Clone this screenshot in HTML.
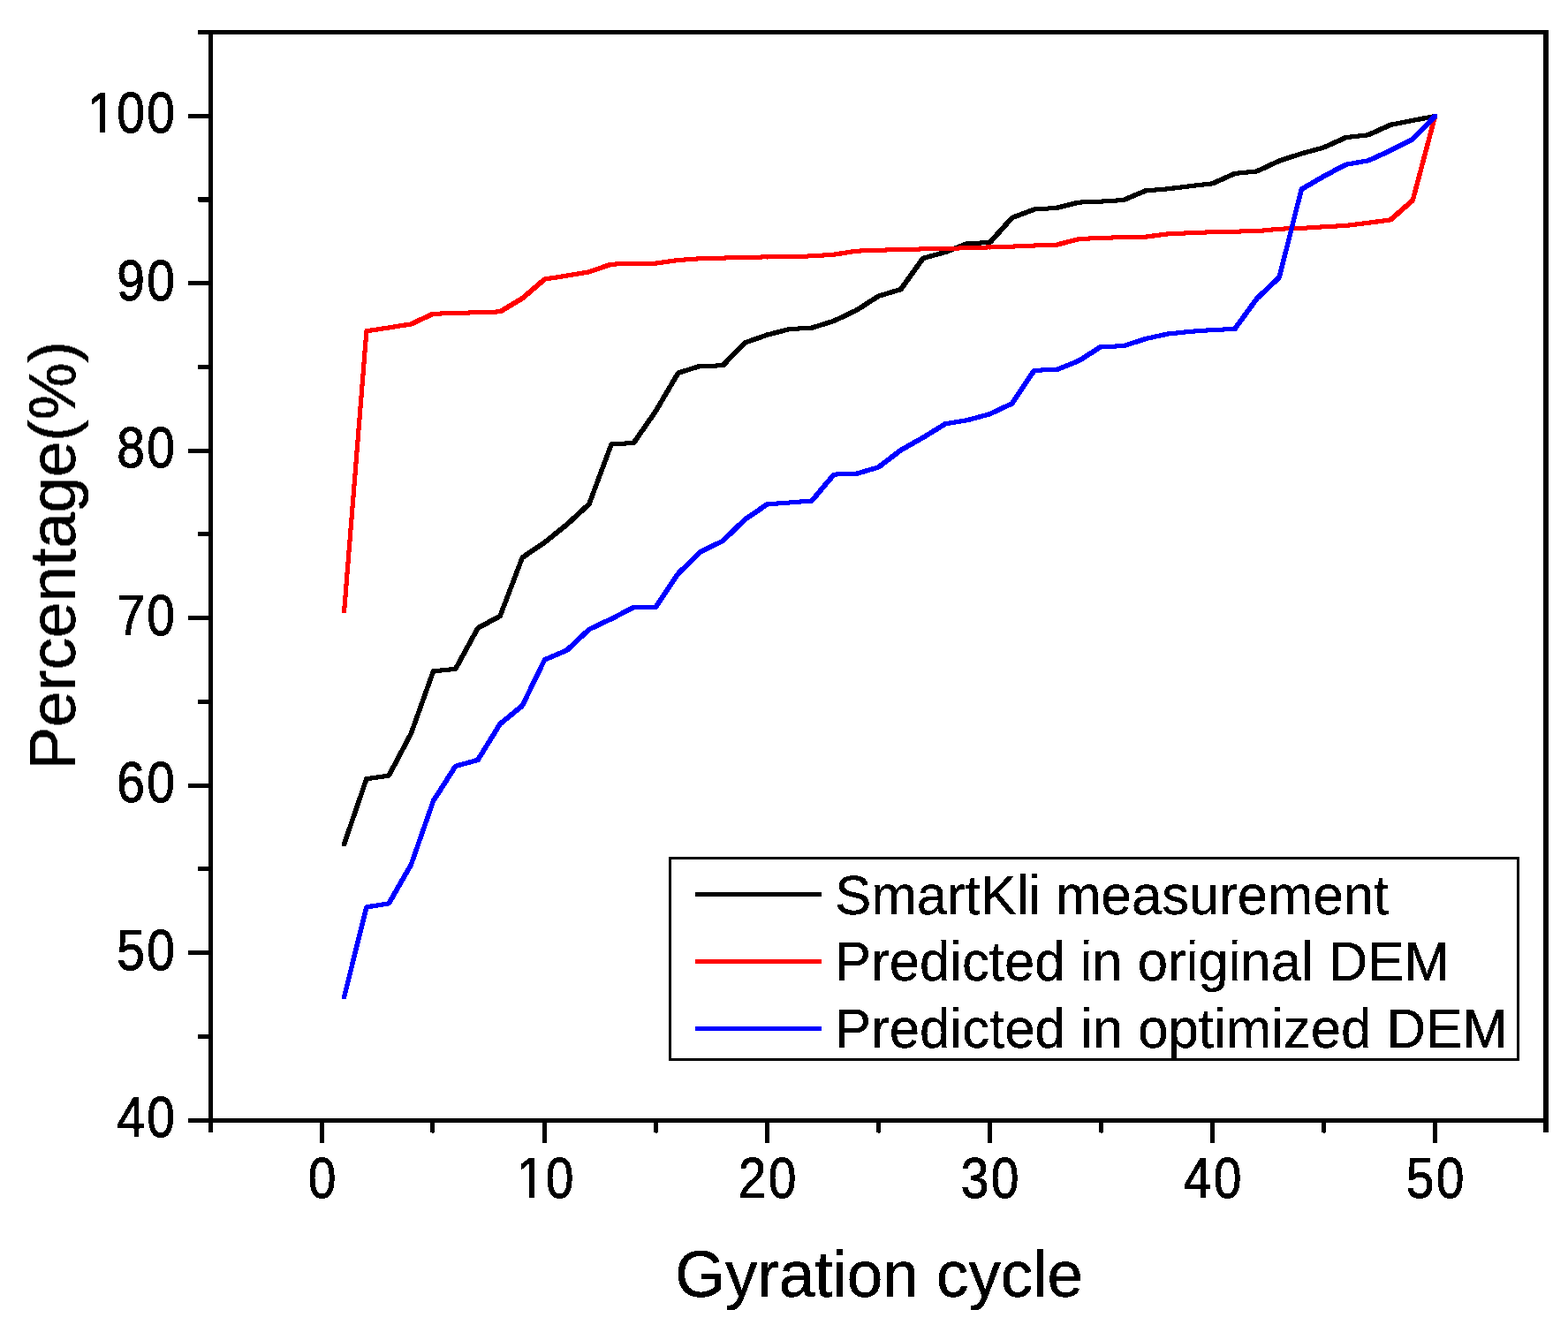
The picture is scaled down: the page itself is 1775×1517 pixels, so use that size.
<!DOCTYPE html>
<html lang="en"><head><meta charset="utf-8"><title>Gyration cycle vs Percentage</title>
<style>html,body{margin:0;padding:0;background:#fff;}body{width:1775px;height:1517px;overflow:hidden;}svg{display:block;}text{font-family:"Liberation Sans",sans-serif;fill:#000;}</style>
</head><body>
<svg width="1775" height="1517" viewBox="0 0 1775 1517">
<defs><filter id="bin" x="-5%" y="-20%" width="110%" height="140%" color-interpolation-filters="sRGB"><feComponentTransfer><feFuncA type="discrete" tableValues="0 1"/></feComponentTransfer></filter><clipPath id="c100"><path clip-rule="evenodd" d="M0 0H1775V1517H0Z M99 143H113V153H99Z M119 143H132V153H119Z"/></clipPath><clipPath id="c10"><path clip-rule="evenodd" d="M0 0H1775V1517H0Z M585 1349H599V1360H585Z M605 1349H617V1360H605Z"/></clipPath></defs>
<rect x="0" y="0" width="1775" height="1517" fill="#fff"/>
<g shape-rendering="crispEdges">
<g stroke="#000" fill="#000" stroke-linecap="butt">
<line x1="389.7" y1="955.3" x2="414.9" y2="881.7" stroke-width="5.55"/>
<line x1="414.9" y1="881.7" x2="440.1" y2="878.2" stroke-width="5.25"/>
<line x1="440.1" y1="878.2" x2="465.3" y2="830.5" stroke-width="5.74"/>
<line x1="465.3" y1="830.5" x2="490.5" y2="759.9" stroke-width="5.57"/>
<line x1="490.5" y1="759.9" x2="515.7" y2="757.3" stroke-width="5.18"/>
<line x1="515.7" y1="757.3" x2="540.9" y2="711.1" stroke-width="5.76"/>
<line x1="540.9" y1="711.1" x2="566.1" y2="697.4" stroke-width="5.76"/>
<line x1="566.1" y1="697.4" x2="591.3" y2="631.2" stroke-width="5.60"/>
<line x1="591.3" y1="631.2" x2="616.5" y2="614.1" stroke-width="5.84"/>
<line x1="616.5" y1="614.1" x2="641.7" y2="593.9" stroke-width="5.88"/>
<line x1="641.7" y1="593.9" x2="666.9" y2="570.6" stroke-width="5.90"/>
<line x1="666.9" y1="570.6" x2="692.1" y2="502.9" stroke-width="5.59"/>
<line x1="692.1" y1="502.9" x2="717.3" y2="501.5" stroke-width="5.10"/>
<line x1="717.3" y1="501.5" x2="742.5" y2="465.1" stroke-width="5.84"/>
<line x1="742.5" y1="465.1" x2="767.7" y2="422.2" stroke-width="5.79"/>
<line x1="767.7" y1="422.2" x2="792.9" y2="414.3" stroke-width="5.51"/>
<line x1="792.9" y1="414.3" x2="818.1" y2="413.9" stroke-width="5.03"/>
<line x1="818.1" y1="413.9" x2="843.3" y2="388.0" stroke-width="5.90"/>
<line x1="843.3" y1="388.0" x2="868.5" y2="379.1" stroke-width="5.57"/>
<line x1="868.5" y1="379.1" x2="893.7" y2="372.6" stroke-width="5.44"/>
<line x1="893.7" y1="372.6" x2="918.9" y2="371.2" stroke-width="5.10"/>
<line x1="918.9" y1="371.2" x2="944.1" y2="363.3" stroke-width="5.51"/>
<line x1="944.1" y1="363.3" x2="969.3" y2="351.4" stroke-width="5.70"/>
<line x1="969.3" y1="351.4" x2="994.5" y2="335.2" stroke-width="5.82"/>
<line x1="994.5" y1="335.2" x2="1019.7" y2="327.6" stroke-width="5.50"/>
<line x1="1019.7" y1="327.6" x2="1044.9" y2="292.4" stroke-width="5.85"/>
<line x1="1044.9" y1="292.4" x2="1070.1" y2="285.5" stroke-width="5.46"/>
<line x1="1070.1" y1="285.5" x2="1095.3" y2="275.6" stroke-width="5.61"/>
<line x1="1095.3" y1="275.6" x2="1120.5" y2="274.6" stroke-width="5.07"/>
<line x1="1120.5" y1="274.6" x2="1145.7" y2="246.5" stroke-width="5.89"/>
<line x1="1145.7" y1="246.5" x2="1170.9" y2="237.0" stroke-width="5.59"/>
<line x1="1170.9" y1="237.0" x2="1196.1" y2="235.4" stroke-width="5.11"/>
<line x1="1196.1" y1="235.4" x2="1221.3" y2="229.1" stroke-width="5.42"/>
<line x1="1221.3" y1="229.1" x2="1246.5" y2="228.1" stroke-width="5.07"/>
<line x1="1246.5" y1="228.1" x2="1271.7" y2="226.5" stroke-width="5.11"/>
<line x1="1271.7" y1="226.5" x2="1296.9" y2="215.9" stroke-width="5.64"/>
<line x1="1296.9" y1="215.9" x2="1322.1" y2="213.8" stroke-width="5.15"/>
<line x1="1322.1" y1="213.8" x2="1347.3" y2="210.7" stroke-width="5.22"/>
<line x1="1347.3" y1="210.7" x2="1372.5" y2="207.8" stroke-width="5.20"/>
<line x1="1372.5" y1="207.8" x2="1397.7" y2="196.5" stroke-width="5.67"/>
<line x1="1397.7" y1="196.5" x2="1422.9" y2="193.9" stroke-width="5.18"/>
<line x1="1422.9" y1="193.9" x2="1448.1" y2="182.1" stroke-width="5.69"/>
<line x1="1448.1" y1="182.1" x2="1473.3" y2="173.9" stroke-width="5.53"/>
<line x1="1473.3" y1="173.9" x2="1498.5" y2="167.0" stroke-width="5.46"/>
<line x1="1498.5" y1="167.0" x2="1523.7" y2="155.6" stroke-width="5.68"/>
<line x1="1523.7" y1="155.6" x2="1548.9" y2="152.8" stroke-width="5.20"/>
<line x1="1548.9" y1="152.8" x2="1574.1" y2="141.3" stroke-width="5.68"/>
<line x1="1574.1" y1="141.3" x2="1599.3" y2="136.4" stroke-width="5.34"/>
<line x1="1599.3" y1="136.4" x2="1624.5" y2="131.5" stroke-width="5.34"/>
<circle cx="414.9" cy="881.7" r="2.6" stroke="none"/>
<circle cx="440.1" cy="878.2" r="2.6" stroke="none"/>
<circle cx="465.3" cy="830.5" r="2.6" stroke="none"/>
<circle cx="490.5" cy="759.9" r="2.6" stroke="none"/>
<circle cx="515.7" cy="757.3" r="2.6" stroke="none"/>
<circle cx="540.9" cy="711.1" r="2.6" stroke="none"/>
<circle cx="566.1" cy="697.4" r="2.6" stroke="none"/>
<circle cx="591.3" cy="631.2" r="2.6" stroke="none"/>
<circle cx="616.5" cy="614.1" r="2.6" stroke="none"/>
<circle cx="641.7" cy="593.9" r="2.6" stroke="none"/>
<circle cx="666.9" cy="570.6" r="2.6" stroke="none"/>
<circle cx="692.1" cy="502.9" r="2.6" stroke="none"/>
<circle cx="717.3" cy="501.5" r="2.6" stroke="none"/>
<circle cx="742.5" cy="465.1" r="2.6" stroke="none"/>
<circle cx="767.7" cy="422.2" r="2.6" stroke="none"/>
<circle cx="792.9" cy="414.3" r="2.6" stroke="none"/>
<circle cx="818.1" cy="413.9" r="2.6" stroke="none"/>
<circle cx="843.3" cy="388.0" r="2.6" stroke="none"/>
<circle cx="868.5" cy="379.1" r="2.6" stroke="none"/>
<circle cx="893.7" cy="372.6" r="2.6" stroke="none"/>
<circle cx="918.9" cy="371.2" r="2.6" stroke="none"/>
<circle cx="944.1" cy="363.3" r="2.6" stroke="none"/>
<circle cx="969.3" cy="351.4" r="2.6" stroke="none"/>
<circle cx="994.5" cy="335.2" r="2.6" stroke="none"/>
<circle cx="1019.7" cy="327.6" r="2.6" stroke="none"/>
<circle cx="1044.9" cy="292.4" r="2.6" stroke="none"/>
<circle cx="1070.1" cy="285.5" r="2.6" stroke="none"/>
<circle cx="1095.3" cy="275.6" r="2.6" stroke="none"/>
<circle cx="1120.5" cy="274.6" r="2.6" stroke="none"/>
<circle cx="1145.7" cy="246.5" r="2.6" stroke="none"/>
<circle cx="1170.9" cy="237.0" r="2.6" stroke="none"/>
<circle cx="1196.1" cy="235.4" r="2.6" stroke="none"/>
<circle cx="1221.3" cy="229.1" r="2.6" stroke="none"/>
<circle cx="1246.5" cy="228.1" r="2.6" stroke="none"/>
<circle cx="1271.7" cy="226.5" r="2.6" stroke="none"/>
<circle cx="1296.9" cy="215.9" r="2.6" stroke="none"/>
<circle cx="1322.1" cy="213.8" r="2.6" stroke="none"/>
<circle cx="1347.3" cy="210.7" r="2.6" stroke="none"/>
<circle cx="1372.5" cy="207.8" r="2.6" stroke="none"/>
<circle cx="1397.7" cy="196.5" r="2.6" stroke="none"/>
<circle cx="1422.9" cy="193.9" r="2.6" stroke="none"/>
<circle cx="1448.1" cy="182.1" r="2.6" stroke="none"/>
<circle cx="1473.3" cy="173.9" r="2.6" stroke="none"/>
<circle cx="1498.5" cy="167.0" r="2.6" stroke="none"/>
<circle cx="1523.7" cy="155.6" r="2.6" stroke="none"/>
<circle cx="1548.9" cy="152.8" r="2.6" stroke="none"/>
<circle cx="1574.1" cy="141.3" r="2.6" stroke="none"/>
<circle cx="1599.3" cy="136.4" r="2.6" stroke="none"/>
<rect x="387.2" y="952.8" width="5" height="5" stroke="none"/>
<rect x="1622.0" y="129.0" width="5" height="5" stroke="none"/>
</g>
<g stroke="#f00" fill="#f00" stroke-linecap="butt">
<line x1="389.7" y1="691.1" x2="414.9" y2="374.8" stroke-width="5.14"/>
<line x1="414.9" y1="374.8" x2="440.1" y2="371.0" stroke-width="5.27"/>
<line x1="440.1" y1="371.0" x2="465.3" y2="366.9" stroke-width="5.29"/>
<line x1="465.3" y1="366.9" x2="490.5" y2="355.2" stroke-width="5.69"/>
<line x1="490.5" y1="355.2" x2="515.7" y2="354.6" stroke-width="5.04"/>
<line x1="515.7" y1="354.6" x2="540.9" y2="353.6" stroke-width="5.07"/>
<line x1="540.9" y1="353.6" x2="566.1" y2="352.9" stroke-width="5.05"/>
<line x1="566.1" y1="352.9" x2="591.3" y2="337.8" stroke-width="5.79"/>
<line x1="591.3" y1="337.8" x2="616.5" y2="316.1" stroke-width="5.89"/>
<line x1="616.5" y1="316.1" x2="641.7" y2="312.1" stroke-width="5.28"/>
<line x1="641.7" y1="312.1" x2="666.9" y2="307.8" stroke-width="5.30"/>
<line x1="666.9" y1="307.8" x2="692.1" y2="299.1" stroke-width="5.56"/>
<line x1="692.1" y1="299.1" x2="717.3" y2="298.6" stroke-width="5.04"/>
<line x1="717.3" y1="298.6" x2="742.5" y2="298.1" stroke-width="5.04"/>
<line x1="742.5" y1="298.1" x2="767.7" y2="294.5" stroke-width="5.25"/>
<line x1="767.7" y1="294.5" x2="792.9" y2="292.7" stroke-width="5.13"/>
<line x1="792.9" y1="292.7" x2="818.1" y2="292.1" stroke-width="5.04"/>
<line x1="818.1" y1="292.1" x2="843.3" y2="291.3" stroke-width="5.06"/>
<line x1="843.3" y1="291.3" x2="868.5" y2="290.9" stroke-width="5.03"/>
<line x1="868.5" y1="290.9" x2="893.7" y2="290.5" stroke-width="5.03"/>
<line x1="893.7" y1="290.5" x2="918.9" y2="289.9" stroke-width="5.04"/>
<line x1="918.9" y1="289.9" x2="944.1" y2="288.2" stroke-width="5.12"/>
<line x1="944.1" y1="288.2" x2="969.3" y2="284.2" stroke-width="5.28"/>
<line x1="969.3" y1="284.2" x2="994.5" y2="283.2" stroke-width="5.07"/>
<line x1="994.5" y1="283.2" x2="1019.7" y2="282.6" stroke-width="5.04"/>
<line x1="1019.7" y1="282.6" x2="1044.9" y2="281.9" stroke-width="5.05"/>
<line x1="1044.9" y1="281.9" x2="1070.1" y2="281.5" stroke-width="5.03"/>
<line x1="1070.1" y1="281.5" x2="1095.3" y2="280.7" stroke-width="5.06"/>
<line x1="1095.3" y1="280.7" x2="1120.5" y2="279.9" stroke-width="5.06"/>
<line x1="1120.5" y1="279.9" x2="1145.7" y2="279.1" stroke-width="5.06"/>
<line x1="1145.7" y1="279.1" x2="1170.9" y2="278.0" stroke-width="5.08"/>
<line x1="1170.9" y1="278.0" x2="1196.1" y2="277.2" stroke-width="5.06"/>
<line x1="1196.1" y1="277.2" x2="1221.3" y2="270.6" stroke-width="5.44"/>
<line x1="1221.3" y1="270.6" x2="1246.5" y2="269.3" stroke-width="5.09"/>
<line x1="1246.5" y1="269.3" x2="1271.7" y2="268.7" stroke-width="5.04"/>
<line x1="1271.7" y1="268.7" x2="1296.9" y2="268.1" stroke-width="5.04"/>
<line x1="1296.9" y1="268.1" x2="1322.1" y2="264.9" stroke-width="5.22"/>
<line x1="1322.1" y1="264.9" x2="1347.3" y2="263.7" stroke-width="5.09"/>
<line x1="1347.3" y1="263.7" x2="1372.5" y2="262.7" stroke-width="5.07"/>
<line x1="1372.5" y1="262.7" x2="1397.7" y2="262.1" stroke-width="5.04"/>
<line x1="1397.7" y1="262.1" x2="1422.9" y2="261.7" stroke-width="5.03"/>
<line x1="1422.9" y1="261.7" x2="1448.1" y2="259.2" stroke-width="5.18"/>
<line x1="1448.1" y1="259.2" x2="1473.3" y2="258.4" stroke-width="5.06"/>
<line x1="1473.3" y1="258.4" x2="1498.5" y2="256.8" stroke-width="5.11"/>
<line x1="1498.5" y1="256.8" x2="1523.7" y2="255.4" stroke-width="5.10"/>
<line x1="1523.7" y1="255.4" x2="1548.9" y2="252.3" stroke-width="5.22"/>
<line x1="1548.9" y1="252.3" x2="1574.1" y2="248.9" stroke-width="5.24"/>
<line x1="1574.1" y1="248.9" x2="1599.3" y2="226.7" stroke-width="5.89"/>
<line x1="1599.3" y1="226.7" x2="1624.5" y2="131.5" stroke-width="5.45"/>
<circle cx="414.9" cy="374.8" r="2.6" stroke="none"/>
<circle cx="440.1" cy="371.0" r="2.6" stroke="none"/>
<circle cx="465.3" cy="366.9" r="2.6" stroke="none"/>
<circle cx="490.5" cy="355.2" r="2.6" stroke="none"/>
<circle cx="515.7" cy="354.6" r="2.6" stroke="none"/>
<circle cx="540.9" cy="353.6" r="2.6" stroke="none"/>
<circle cx="566.1" cy="352.9" r="2.6" stroke="none"/>
<circle cx="591.3" cy="337.8" r="2.6" stroke="none"/>
<circle cx="616.5" cy="316.1" r="2.6" stroke="none"/>
<circle cx="641.7" cy="312.1" r="2.6" stroke="none"/>
<circle cx="666.9" cy="307.8" r="2.6" stroke="none"/>
<circle cx="692.1" cy="299.1" r="2.6" stroke="none"/>
<circle cx="717.3" cy="298.6" r="2.6" stroke="none"/>
<circle cx="742.5" cy="298.1" r="2.6" stroke="none"/>
<circle cx="767.7" cy="294.5" r="2.6" stroke="none"/>
<circle cx="792.9" cy="292.7" r="2.6" stroke="none"/>
<circle cx="818.1" cy="292.1" r="2.6" stroke="none"/>
<circle cx="843.3" cy="291.3" r="2.6" stroke="none"/>
<circle cx="868.5" cy="290.9" r="2.6" stroke="none"/>
<circle cx="893.7" cy="290.5" r="2.6" stroke="none"/>
<circle cx="918.9" cy="289.9" r="2.6" stroke="none"/>
<circle cx="944.1" cy="288.2" r="2.6" stroke="none"/>
<circle cx="969.3" cy="284.2" r="2.6" stroke="none"/>
<circle cx="994.5" cy="283.2" r="2.6" stroke="none"/>
<circle cx="1019.7" cy="282.6" r="2.6" stroke="none"/>
<circle cx="1044.9" cy="281.9" r="2.6" stroke="none"/>
<circle cx="1070.1" cy="281.5" r="2.6" stroke="none"/>
<circle cx="1095.3" cy="280.7" r="2.6" stroke="none"/>
<circle cx="1120.5" cy="279.9" r="2.6" stroke="none"/>
<circle cx="1145.7" cy="279.1" r="2.6" stroke="none"/>
<circle cx="1170.9" cy="278.0" r="2.6" stroke="none"/>
<circle cx="1196.1" cy="277.2" r="2.6" stroke="none"/>
<circle cx="1221.3" cy="270.6" r="2.6" stroke="none"/>
<circle cx="1246.5" cy="269.3" r="2.6" stroke="none"/>
<circle cx="1271.7" cy="268.7" r="2.6" stroke="none"/>
<circle cx="1296.9" cy="268.1" r="2.6" stroke="none"/>
<circle cx="1322.1" cy="264.9" r="2.6" stroke="none"/>
<circle cx="1347.3" cy="263.7" r="2.6" stroke="none"/>
<circle cx="1372.5" cy="262.7" r="2.6" stroke="none"/>
<circle cx="1397.7" cy="262.1" r="2.6" stroke="none"/>
<circle cx="1422.9" cy="261.7" r="2.6" stroke="none"/>
<circle cx="1448.1" cy="259.2" r="2.6" stroke="none"/>
<circle cx="1473.3" cy="258.4" r="2.6" stroke="none"/>
<circle cx="1498.5" cy="256.8" r="2.6" stroke="none"/>
<circle cx="1523.7" cy="255.4" r="2.6" stroke="none"/>
<circle cx="1548.9" cy="252.3" r="2.6" stroke="none"/>
<circle cx="1574.1" cy="248.9" r="2.6" stroke="none"/>
<circle cx="1599.3" cy="226.7" r="2.6" stroke="none"/>
<rect x="387.2" y="688.6" width="5" height="5" stroke="none"/>
<rect x="1622.0" y="129.0" width="5" height="5" stroke="none"/>
</g>
<g stroke="#00f" fill="#00f" stroke-linecap="butt">
<line x1="389.7" y1="1128.1" x2="414.9" y2="1026.9" stroke-width="5.42"/>
<line x1="414.9" y1="1026.9" x2="440.1" y2="1022.9" stroke-width="5.28"/>
<line x1="440.1" y1="1022.9" x2="465.3" y2="979.0" stroke-width="5.78"/>
<line x1="465.3" y1="979.0" x2="490.5" y2="906.8" stroke-width="5.56"/>
<line x1="490.5" y1="906.8" x2="515.7" y2="867.3" stroke-width="5.82"/>
<line x1="515.7" y1="867.3" x2="540.9" y2="860.4" stroke-width="5.46"/>
<line x1="540.9" y1="860.4" x2="566.1" y2="819.6" stroke-width="5.80"/>
<line x1="566.1" y1="819.6" x2="591.3" y2="798.9" stroke-width="5.88"/>
<line x1="591.3" y1="798.9" x2="616.5" y2="746.9" stroke-width="5.71"/>
<line x1="616.5" y1="746.9" x2="641.7" y2="736.2" stroke-width="5.65"/>
<line x1="641.7" y1="736.2" x2="666.9" y2="712.5" stroke-width="5.90"/>
<line x1="666.9" y1="712.5" x2="692.1" y2="700.6" stroke-width="5.70"/>
<line x1="692.1" y1="700.6" x2="717.3" y2="687.6" stroke-width="5.73"/>
<line x1="717.3" y1="687.6" x2="742.5" y2="687.2" stroke-width="5.03"/>
<line x1="742.5" y1="687.2" x2="767.7" y2="649.4" stroke-width="5.83"/>
<line x1="767.7" y1="649.4" x2="792.9" y2="624.7" stroke-width="5.90"/>
<line x1="792.9" y1="624.7" x2="818.1" y2="612.5" stroke-width="5.71"/>
<line x1="818.1" y1="612.5" x2="843.3" y2="588.1" stroke-width="5.90"/>
<line x1="843.3" y1="588.1" x2="868.5" y2="570.9" stroke-width="5.84"/>
<line x1="868.5" y1="570.9" x2="893.7" y2="569.0" stroke-width="5.13"/>
<line x1="893.7" y1="569.0" x2="918.9" y2="567.0" stroke-width="5.14"/>
<line x1="918.9" y1="567.0" x2="944.1" y2="537.1" stroke-width="5.89"/>
<line x1="944.1" y1="537.1" x2="969.3" y2="536.4" stroke-width="5.05"/>
<line x1="969.3" y1="536.4" x2="994.5" y2="528.9" stroke-width="5.49"/>
<line x1="994.5" y1="528.9" x2="1019.7" y2="509.6" stroke-width="5.87"/>
<line x1="1019.7" y1="509.6" x2="1044.9" y2="495.4" stroke-width="5.77"/>
<line x1="1044.9" y1="495.4" x2="1070.1" y2="479.9" stroke-width="5.80"/>
<line x1="1070.1" y1="479.9" x2="1095.3" y2="475.6" stroke-width="5.30"/>
<line x1="1095.3" y1="475.6" x2="1120.5" y2="468.7" stroke-width="5.46"/>
<line x1="1120.5" y1="468.7" x2="1145.7" y2="456.8" stroke-width="5.70"/>
<line x1="1145.7" y1="456.8" x2="1170.9" y2="419.2" stroke-width="5.83"/>
<line x1="1170.9" y1="419.2" x2="1196.1" y2="418.6" stroke-width="5.04"/>
<line x1="1196.1" y1="418.6" x2="1221.3" y2="408.4" stroke-width="5.63"/>
<line x1="1221.3" y1="408.4" x2="1246.5" y2="392.4" stroke-width="5.81"/>
<line x1="1246.5" y1="392.4" x2="1271.7" y2="391.8" stroke-width="5.04"/>
<line x1="1271.7" y1="391.8" x2="1296.9" y2="383.5" stroke-width="5.53"/>
<line x1="1296.9" y1="383.5" x2="1322.1" y2="378.0" stroke-width="5.37"/>
<line x1="1322.1" y1="378.0" x2="1347.3" y2="375.4" stroke-width="5.18"/>
<line x1="1347.3" y1="375.4" x2="1372.5" y2="373.5" stroke-width="5.13"/>
<line x1="1372.5" y1="373.5" x2="1397.7" y2="372.5" stroke-width="5.07"/>
<line x1="1397.7" y1="372.5" x2="1422.9" y2="337.9" stroke-width="5.86"/>
<line x1="1422.9" y1="337.9" x2="1448.1" y2="314.1" stroke-width="5.90"/>
<line x1="1448.1" y1="314.1" x2="1473.3" y2="214.3" stroke-width="5.43"/>
<line x1="1473.3" y1="214.3" x2="1498.5" y2="199.6" stroke-width="5.78"/>
<line x1="1498.5" y1="199.6" x2="1523.7" y2="186.2" stroke-width="5.75"/>
<line x1="1523.7" y1="186.2" x2="1548.9" y2="181.9" stroke-width="5.30"/>
<line x1="1548.9" y1="181.9" x2="1574.1" y2="170.4" stroke-width="5.68"/>
<line x1="1574.1" y1="170.4" x2="1599.3" y2="157.5" stroke-width="5.73"/>
<line x1="1599.3" y1="157.5" x2="1624.5" y2="131.5" stroke-width="5.90"/>
<circle cx="414.9" cy="1026.9" r="2.6" stroke="none"/>
<circle cx="440.1" cy="1022.9" r="2.6" stroke="none"/>
<circle cx="465.3" cy="979.0" r="2.6" stroke="none"/>
<circle cx="490.5" cy="906.8" r="2.6" stroke="none"/>
<circle cx="515.7" cy="867.3" r="2.6" stroke="none"/>
<circle cx="540.9" cy="860.4" r="2.6" stroke="none"/>
<circle cx="566.1" cy="819.6" r="2.6" stroke="none"/>
<circle cx="591.3" cy="798.9" r="2.6" stroke="none"/>
<circle cx="616.5" cy="746.9" r="2.6" stroke="none"/>
<circle cx="641.7" cy="736.2" r="2.6" stroke="none"/>
<circle cx="666.9" cy="712.5" r="2.6" stroke="none"/>
<circle cx="692.1" cy="700.6" r="2.6" stroke="none"/>
<circle cx="717.3" cy="687.6" r="2.6" stroke="none"/>
<circle cx="742.5" cy="687.2" r="2.6" stroke="none"/>
<circle cx="767.7" cy="649.4" r="2.6" stroke="none"/>
<circle cx="792.9" cy="624.7" r="2.6" stroke="none"/>
<circle cx="818.1" cy="612.5" r="2.6" stroke="none"/>
<circle cx="843.3" cy="588.1" r="2.6" stroke="none"/>
<circle cx="868.5" cy="570.9" r="2.6" stroke="none"/>
<circle cx="893.7" cy="569.0" r="2.6" stroke="none"/>
<circle cx="918.9" cy="567.0" r="2.6" stroke="none"/>
<circle cx="944.1" cy="537.1" r="2.6" stroke="none"/>
<circle cx="969.3" cy="536.4" r="2.6" stroke="none"/>
<circle cx="994.5" cy="528.9" r="2.6" stroke="none"/>
<circle cx="1019.7" cy="509.6" r="2.6" stroke="none"/>
<circle cx="1044.9" cy="495.4" r="2.6" stroke="none"/>
<circle cx="1070.1" cy="479.9" r="2.6" stroke="none"/>
<circle cx="1095.3" cy="475.6" r="2.6" stroke="none"/>
<circle cx="1120.5" cy="468.7" r="2.6" stroke="none"/>
<circle cx="1145.7" cy="456.8" r="2.6" stroke="none"/>
<circle cx="1170.9" cy="419.2" r="2.6" stroke="none"/>
<circle cx="1196.1" cy="418.6" r="2.6" stroke="none"/>
<circle cx="1221.3" cy="408.4" r="2.6" stroke="none"/>
<circle cx="1246.5" cy="392.4" r="2.6" stroke="none"/>
<circle cx="1271.7" cy="391.8" r="2.6" stroke="none"/>
<circle cx="1296.9" cy="383.5" r="2.6" stroke="none"/>
<circle cx="1322.1" cy="378.0" r="2.6" stroke="none"/>
<circle cx="1347.3" cy="375.4" r="2.6" stroke="none"/>
<circle cx="1372.5" cy="373.5" r="2.6" stroke="none"/>
<circle cx="1397.7" cy="372.5" r="2.6" stroke="none"/>
<circle cx="1422.9" cy="337.9" r="2.6" stroke="none"/>
<circle cx="1448.1" cy="314.1" r="2.6" stroke="none"/>
<circle cx="1473.3" cy="214.3" r="2.6" stroke="none"/>
<circle cx="1498.5" cy="199.6" r="2.6" stroke="none"/>
<circle cx="1523.7" cy="186.2" r="2.6" stroke="none"/>
<circle cx="1548.9" cy="181.9" r="2.6" stroke="none"/>
<circle cx="1574.1" cy="170.4" r="2.6" stroke="none"/>
<circle cx="1599.3" cy="157.5" r="2.6" stroke="none"/>
<rect x="387.2" y="1125.6" width="5" height="5" stroke="none"/>
<rect x="1622.0" y="129.0" width="5" height="5" stroke="none"/>
</g>
</g>
<g fill="#000" shape-rendering="crispEdges">
<rect x="236" y="34" width="5" height="1248"/>
<rect x="1747" y="34" width="6" height="1248"/>
<rect x="224" y="34" width="1529" height="5"/>
<rect x="213" y="1266" width="1540" height="5"/>
<rect x="362" y="1271" width="5" height="23"/>
<rect x="614" y="1271" width="5" height="23"/>
<rect x="866" y="1271" width="5" height="23"/>
<rect x="1118" y="1271" width="5" height="23"/>
<rect x="1370" y="1271" width="5" height="23"/>
<rect x="1622" y="1271" width="5" height="23"/>
<rect x="487" y="1271" width="5" height="11"/>
<rect x="489" y="1282" width="2" height="1"/>
<rect x="740" y="1271" width="5" height="11"/>
<rect x="742" y="1282" width="2" height="1"/>
<rect x="992" y="1271" width="5" height="11"/>
<rect x="994" y="1282" width="2" height="1"/>
<rect x="1244" y="1271" width="5" height="11"/>
<rect x="1246" y="1282" width="2" height="1"/>
<rect x="1496" y="1271" width="5" height="11"/>
<rect x="1498" y="1282" width="2" height="1"/>
<rect x="213" y="1076" width="23" height="5"/>
<rect x="213" y="887" width="23" height="5"/>
<rect x="213" y="697" width="23" height="5"/>
<rect x="213" y="508" width="23" height="5"/>
<rect x="213" y="318" width="23" height="5"/>
<rect x="213" y="129" width="23" height="5"/>
<rect x="224" y="1171" width="12" height="5"/>
<rect x="224" y="981" width="12" height="5"/>
<rect x="224" y="792" width="12" height="5"/>
<rect x="224" y="602" width="12" height="5"/>
<rect x="224" y="413" width="12" height="5"/>
<rect x="224" y="223" width="12" height="5"/>
<rect x="225" y="228" width="11" height="1"/>
</g>
<g font-size="64.0" stroke="#000" stroke-width="1" filter="url(#bin)">
<text transform="translate(0,1356.0) scale(0.890,1)" x="391.75" y="0">0</text>
<g clip-path="url(#c10)"><text transform="translate(0,1356.0) scale(0.890,1)" x="656.92 694.00" y="0">10</text></g>
<text transform="translate(0,1356.0) scale(0.890,1)" x="938.94 977.15" y="0">20</text>
<text transform="translate(0,1356.0) scale(0.890,1)" x="1222.09 1260.29" y="0">30</text>
<text transform="translate(0,1356.0) scale(0.890,1)" x="1505.24 1543.44" y="0">40</text>
<text transform="translate(0,1356.0) scale(0.890,1)" x="1788.38 1826.58" y="0">50</text>
<text transform="translate(0,1287.0) scale(0.890,1)" x="148.72 186.92" y="0">40</text>
<text transform="translate(0,1097.5) scale(0.890,1)" x="148.72 186.92" y="0">50</text>
<text transform="translate(0,908.0) scale(0.890,1)" x="148.72 186.92" y="0">60</text>
<text transform="translate(0,718.5) scale(0.890,1)" x="148.72 186.92" y="0">70</text>
<text transform="translate(0,529.0) scale(0.890,1)" x="148.72 186.92" y="0">80</text>
<text transform="translate(0,339.5) scale(0.890,1)" x="148.72 186.92" y="0">90</text>
<g clip-path="url(#c100)"><text transform="translate(0,150.0) scale(0.890,1)" x="111.64 148.72 186.92" y="0">100</text></g>
</g>
<text filter="url(#bin)" stroke="#000" stroke-width="0.5" x="764.3" y="1468" font-size="74" textLength="461.7" lengthAdjust="spacingAndGlyphs">Gyration cycle</text>
<text filter="url(#bin)" stroke="#000" stroke-width="0.5" transform="translate(85,871.5) rotate(-90)" x="0" y="0" font-size="74" textLength="485.1" lengthAdjust="spacingAndGlyphs">Percentage(%)</text>
<rect x="758.5" y="971.5" width="960" height="228" fill="#fff" stroke="#000" stroke-width="3" shape-rendering="crispEdges"/>
<g shape-rendering="crispEdges">
<rect x="787" y="1010" width="143" height="5" fill="#000"/>
<rect x="787" y="1086" width="143" height="5" fill="#f00"/>
<rect x="787" y="1162" width="143" height="5" fill="#00f"/>
</g>
<g font-size="63" stroke="#000" stroke-width="0.3" filter="url(#bin)">
<text x="945.3" y="1034.5" textLength="626.8" lengthAdjust="spacingAndGlyphs">SmartKli measurement</text>
<text x="945" y="1110" textLength="695.8" lengthAdjust="spacingAndGlyphs">Predicted in original DEM</text>
<text x="945" y="1186" textLength="761.8" lengthAdjust="spacingAndGlyphs">Predicted in optimized DEM</text>
</g>
</svg>
</body></html>
